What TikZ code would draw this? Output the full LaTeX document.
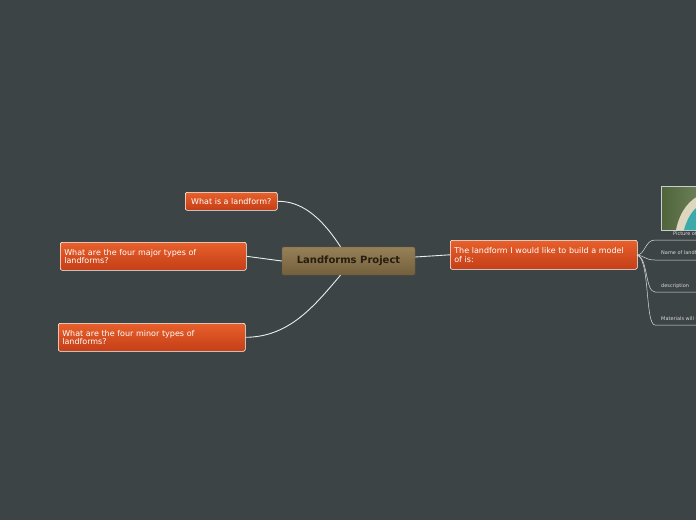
\documentclass[tikz,border=0pt]{standalone}
\usepackage{fontspec}
\setmainfont{DejaVu Sans}
\definecolor{bg}{RGB}{61,68,69}
\definecolor{sand}{RGB}{220,215,190}
\definecolor{sea}{RGB}{60,170,170}
\definecolor{otop}{RGB}{232,96,42}
\definecolor{obot}{RGB}{196,62,24}
\begin{document}
\begin{tikzpicture}[x=1pt,y=-1pt,
  topic/.style={draw=white,line width=0.6pt,rounded corners=2pt,top color=otop,bottom color=obot,text=white,font=\fontsize{8}{8.5}\selectfont,align=left,inner sep=4pt,anchor=north west},
  sub/.style={text=white!85!black,font=\fontsize{5}{6}\selectfont,anchor=west,inner sep=1pt},
  conn/.style={draw=white!85!gray,line width=0.9pt},
  thin/.style={draw=white!75!gray,line width=0.5pt}]
\fill[bg] (0,0) rectangle (696,520);
\useasboundingbox (0,0) rectangle (696,520);
\clip (0,0) rectangle (696,520);
\node[draw={rgb,255:red,110;green,95;blue,60},rounded corners=2pt,top color={rgb,255:red,150;green,128;blue,88},bottom color={rgb,255:red,115;green,96;blue,60},minimum width=133pt,minimum height=28pt,font=\bfseries\fontsize{10}{11}\selectfont,text={rgb,255:red,40;green,30;blue,15}] (c) at (348.5,261) {Landforms Project};
\node[topic,minimum width=92pt,minimum height=18pt] (a) at (185,192) {What is a landform?};
\node[topic,minimum height=28pt,text width=178pt] (b) at (60,242) {What are the four major types of\\landforms?};
\node[topic,minimum height=28pt,text width=179pt] (d) at (58,323) {What are the four minor types of\\landforms?};
\node[topic,minimum height=29pt,text width=179pt] (e) at (450,240) {The landform I would like to build a model\\of is:};
\draw[conn] (c.north) ++(-8,0) .. controls (320,215) and (300,201) .. (a.east);
\draw[conn] (c.west) -- (b.east);
\draw[conn] (c.south) ++(-8,0) .. controls (315,305) and (290,337) .. (d.east);
\draw[conn] (c.east) ++(0,-4) -- (e.west);
% sub items
\node[draw=white!60!gray,line width=0.4pt,inner sep=0pt,minimum width=40pt,minimum height=44pt,anchor=north west,
  left color={rgb,255:red,80;green,100;blue,60},right color={rgb,255:red,110;green,130;blue,90}] (p) at (661,186) {};
\fill[sand] (676,230) .. controls (680,210) and (690,200) .. (700,195) -- (700,230) -- cycle;
\fill[sea] (684,230) .. controls (688,215) and (695,208) .. (700,205) -- (700,230) -- cycle;
\node[sub,anchor=north west] (pt) at (672,230) {Picture of landform};
\node[sub] (s1) at (660,253) {Name of landform};
\node[sub] (s2) at (660,286) {description};
\node[sub] (s3) at (660,319) {Materials will use};
\coordinate (o) at (637,255);
\draw[thin] (o) .. controls (645,255) and (645,240) .. (655,240) -- (700,240);
\draw[thin] (o) .. controls (645,256) and (645,260) .. (655,260) -- (700,260);
\draw[thin] (o) .. controls (648,257) and (645,292) .. (655,292) -- (700,292);
\draw[thin] (o) .. controls (650,258) and (645,325) .. (655,325) -- (700,325);
\end{tikzpicture}
\end{document}
